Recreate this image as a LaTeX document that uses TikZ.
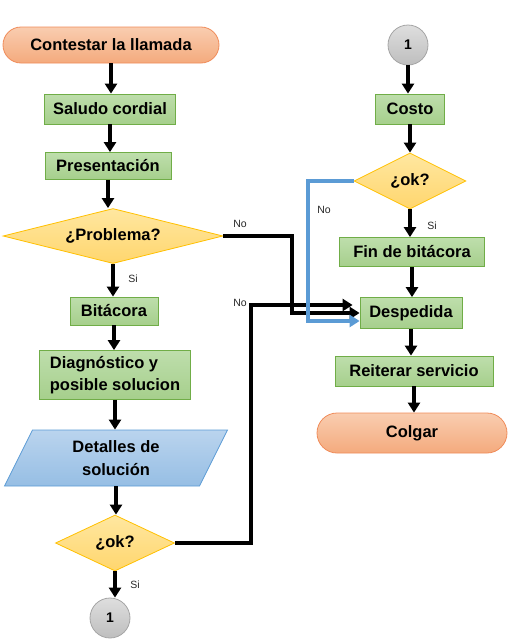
\documentclass[tikz,border=0pt]{standalone}
\usepackage{fontspec}
\setmainfont{Liberation Sans}
\usetikzlibrary{shapes.geometric, arrows.meta, positioning, calc}
\definecolor{termtop}{RGB}{249,205,176}
\definecolor{termbottom}{RGB}{244,170,125}
\definecolor{termline}{RGB}{240,140,90}
\definecolor{proctop}{RGB}{190,222,172}
\definecolor{procbottom}{RGB}{166,207,140}
\definecolor{procline}{RGB}{112,173,71}
\definecolor{dectop}{RGB}{255,231,160}
\definecolor{decbottom}{RGB}{255,214,110}
\definecolor{decline}{RGB}{255,192,0}
\definecolor{datatop}{RGB}{186,212,238}
\definecolor{databottom}{RGB}{150,190,228}
\definecolor{dataline}{RGB}{91,155,213}
\definecolor{linktop}{RGB}{222,222,222}
\definecolor{linkbottom}{RGB}{190,190,190}
\definecolor{linkline}{RGB}{165,165,165}
\definecolor{backflow}{RGB}{91,155,213}

\begin{document}
\begin{tikzpicture}[
    x=1pt, y=-1pt,
    terminal/.style={draw=termline, line width=0.8pt, top color=termtop, bottom color=termbottom, rounded corners=18pt, inner sep=0pt, font=\fontsize{16.5}{20}\selectfont\bfseries},
    process/.style={draw=procline, line width=0.8pt, top color=proctop, bottom color=procbottom, minimum height=30pt, inner sep=0pt, align=center, font=\fontsize{16.5}{22.5}\selectfont\bfseries},
    decision/.style={diamond, shape aspect=2, draw=decline, line width=0.8pt, top color=dectop, bottom color=decbottom, inner sep=0pt, font=\fontsize{16.5}{20}\selectfont\bfseries},
    data/.style={trapezium, trapezium left angle=51, trapezium right angle=129, trapezium stretches body, draw=dataline, line width=0.8pt, top color=datatop, bottom color=databottom, inner sep=0pt, align=center, font=\fontsize{16.5}{22.5}\selectfont\bfseries},
    link/.style={circle, draw=linkline, line width=0.8pt, top color=linktop, bottom color=linkbottom, minimum size=40pt, inner sep=0pt, font=\fontsize{14}{16}\selectfont\bfseries},
    flow/.style={line width=4pt, -{Triangle[length=10pt, width=12pt]}},
    branch/.style={font=\fontsize{10.5}{12}\selectfont, text=black!85}
]
    \useasboundingbox (0,0) rectangle (510,640);

    % Left column
    \node[terminal, minimum width=216pt, minimum height=36pt] (start) at (111,45) {Contestar la llamada};
    \node[process, minimum width=131pt] (saludo) at (110,109) {Saludo cordial};
    \node[process, minimum width=126pt, minimum height=27pt] (present) at (108,166) {Presentación};
    \node[decision, shape aspect=4, minimum width=220pt, minimum height=55pt] (problema) at (113,236) {¿Problema?};
    \node[process, minimum width=88pt, minimum height=28pt] (bitacora) at (114,311) {Bitácora};
    \node[process, minimum width=151pt, minimum height=49pt, align=left] (diag) at (115,375) {Diagnóstico y\\posible solucion};
    \node[data, minimum width=223pt, minimum height=56pt] (detalles) at (116,458) {Detalles de\\solución};
    \node[decision, minimum width=119pt, minimum height=56pt] (okA) at (115,543) {¿ok?};
    \node[link] (oneA) at (110,618) {1};

    % Right column
    \node[link] (oneB) at (408,45) {1};
    \node[process, minimum width=69pt] (costo) at (410,109) {Costo};
    \node[decision, minimum width=112pt, minimum height=56pt] (okB) at (410,181) {¿ok?};
    \node[process, minimum width=145pt, minimum height=29pt] (fin) at (412,252) {Fin de bitácora};
    \node[process, minimum width=102pt, minimum height=31pt] (desp) at (411,313) {Despedida};
    \node[process, minimum width=158pt] (reiterar) at (414,371) {Reiterar servicio};
    \node[terminal, minimum width=190pt, minimum height=40pt, rounded corners=20pt] (colgar) at (412,433) {Colgar};

    % Branch labels
    \node[branch] (noA) at (240,224) {No};
    \node[branch] (siA) at (133,279) {Si};
    \node[branch] (noB) at (240,303) {No};
    \node[branch] (siB) at (135,585) {Si};
    \node[branch] (noC) at (324,210) {No};
    \node[branch] (siC) at (432,226) {Si};

    % Main flow
    \draw[flow] (start.south) -- (start.south |- saludo.north);
    \draw[flow] (saludo.south) -- (saludo.south |- present.north);
    \draw[flow] (present.south) -- (present.south |- problema.north);
    \draw[flow] (problema.south) -- (problema.south |- bitacora.north);
    \draw[flow] (bitacora.south) -- (bitacora.south |- diag.north);
    \draw[flow] (diag.south) -- (diag.south |- detalles.north);
    \draw[flow] (detalles.south) -- (detalles.south |- okA.north);
    \draw[flow] (okA.south) -- (okA.south |- oneA.north);

    \draw[flow] (oneB.south) -- (oneB.south |- costo.north);
    \draw[flow] (costo.south) -- (costo.south |- okB.north);
    \draw[flow] (okB.south) -- (okB.south |- fin.north);
    \draw[flow] (fin.south) -- (fin.south |- desp.north);
    \draw[flow] (desp.south) -- (desp.south |- reiterar.north);
    \draw[flow] (reiterar.south) -- (reiterar.south |- colgar.north);

    % No branches
    \draw[flow] (problema.east) -| (292,313) -- (desp.west);
    \draw[flow] (okA.east) -| (251,305) -- ([xshift=-7pt, yshift=8pt]desp.west);
    \draw[flow, backflow] (okB.west) -| (308,321) -- ([yshift=-8pt]desp.west);
\end{tikzpicture}
\end{document}
